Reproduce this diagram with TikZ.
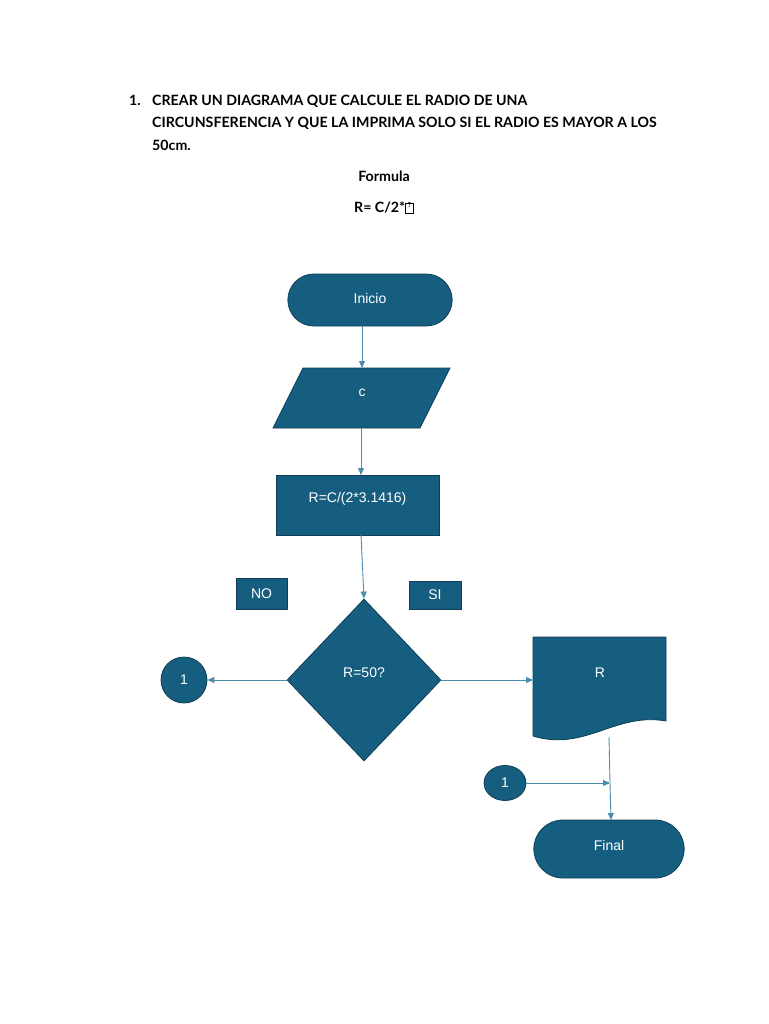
\documentclass[tikz,border=0pt]{standalone}
\usepackage{fontspec}
\setmainfont{Liberation Sans}
\newfontfamily\titlefont{Lato}
\usetikzlibrary{shapes.geometric,shapes.misc,arrows.meta}
\definecolor{boxfill}{HTML}{165E80}
\definecolor{boxline}{HTML}{0E3F57}
\definecolor{arrowc}{HTML}{4A8DAE}
\tikzset{
  shp/.style={fill=boxfill,draw=boxline,line width=0.8pt,text=white,font=\fontsize{14}{16}\selectfont},
  term/.style={shp,rounded rectangle,minimum width=171pt,minimum height=52pt},
  proc/.style={shp,rectangle,inner sep=0pt},
  conn/.style={shp,circle,minimum size=46pt,inner sep=0pt},
  flow/.style={draw=arrowc,line width=0.9pt,-{Triangle[length=7pt,width=6pt]}},
  plain/.style={draw=arrowc,line width=0.9pt},
  ttl/.style={font=\titlefont\bfseries\fontsize{14.2}{16}\selectfont,anchor=base west,inner sep=0pt},
}
\begin{document}
\begin{tikzpicture}[x=1pt,y=-1pt]
\useasboundingbox[fill=white] (0,0) rectangle (768,1024);
% title
\node[ttl] (n1) at (129,106) {1.};
\node[ttl] (l1) at (152,106) {CREAR UN DIAGRAMA QUE CALCULE EL RADIO DE UNA};
\node[ttl] (l2) at (152,128) {CIRCUNSFERENCIA Y QUE LA IMPRIMA SOLO SI EL RADIO ES MAYOR A LOS};
\node[ttl] (l3) at (152,151) {50cm.};
\node[ttl,anchor=base] (f1) at (384,182) {Formula};
\node[ttl,anchor=base] (f2) at (384,213) {R= C/2*\tikz[baseline=0pt,y=1pt]\draw[line width=0.6pt] (0,0) rectangle (8pt,10pt) (4pt,5pt) node[inner sep=0pt,font=\fontsize{7}{7}\selectfont]{?};};
% shapes
\node[term] (ini) at (370,300) {\raisebox{3pt}{Inicio}};
\path[shp] (303,368) -- (450,368) -- (420,428) -- (273,428) -- cycle;
\node[inner sep=0pt,text=white,font=\fontsize{14}{16}\selectfont] (c) at (362,393) {c};
\coordinate (cbot) at (361,428);
\node[proc,minimum width=163pt,minimum height=60pt] (calc) at (357.5,505) {};
\node[text=white,font=\fontsize{14}{16}\selectfont] (calct) at (357.5,499) {R=C/(2*3.1416)};
\node[shp,diamond,minimum width=154pt,minimum height=162pt,inner sep=0pt,aspect=0.95] (dec) at (364,680) {};
\node[text=white,font=\fontsize{14}{16}\selectfont] (dect) at (364,673) {R=50?};
\node[proc,minimum width=51pt,minimum height=31pt] (no) at (261.5,593.5) {NO};
\node[proc,minimum width=52pt,minimum height=28pt] (si) at (435,595) {SI};
\node[conn] (c1) at (184,680) {1};
% document
\path[shp] (533,637) -- (666,637) -- (666,721) .. controls (615,712) and (585,752) .. (533,736) -- cycle;
\coordinate (doc) at (533,680);
\node[text=white,font=\fontsize{14}{16}\selectfont] (doct) at (600,673) {R};
\coordinate (docbot) at (609,737);
\node[shp,ellipse,minimum width=42pt,minimum height=35pt,inner sep=0pt] (c2) at (505,783) {1};
\node[term,minimum width=157pt,minimum height=58pt] (fin) at (609,849) {\raisebox{8pt}{Final}};
\coordinate (join) at (610,783);
% connectors
\draw[flow] (362,326) -- (362,368);
\draw[flow] (cbot) -- (361,475);
\draw[flow] (361,535) -- (dec.north);
\draw[flow] (dec.west) -- (c1.east);
\draw[flow] (dec.east) -- (doc);
\draw[plain] (docbot) -- (join);
\draw[flow] (c2.east) -- (join);
\draw[flow] (join) -- (611,820);
\end{tikzpicture}
\end{document}
